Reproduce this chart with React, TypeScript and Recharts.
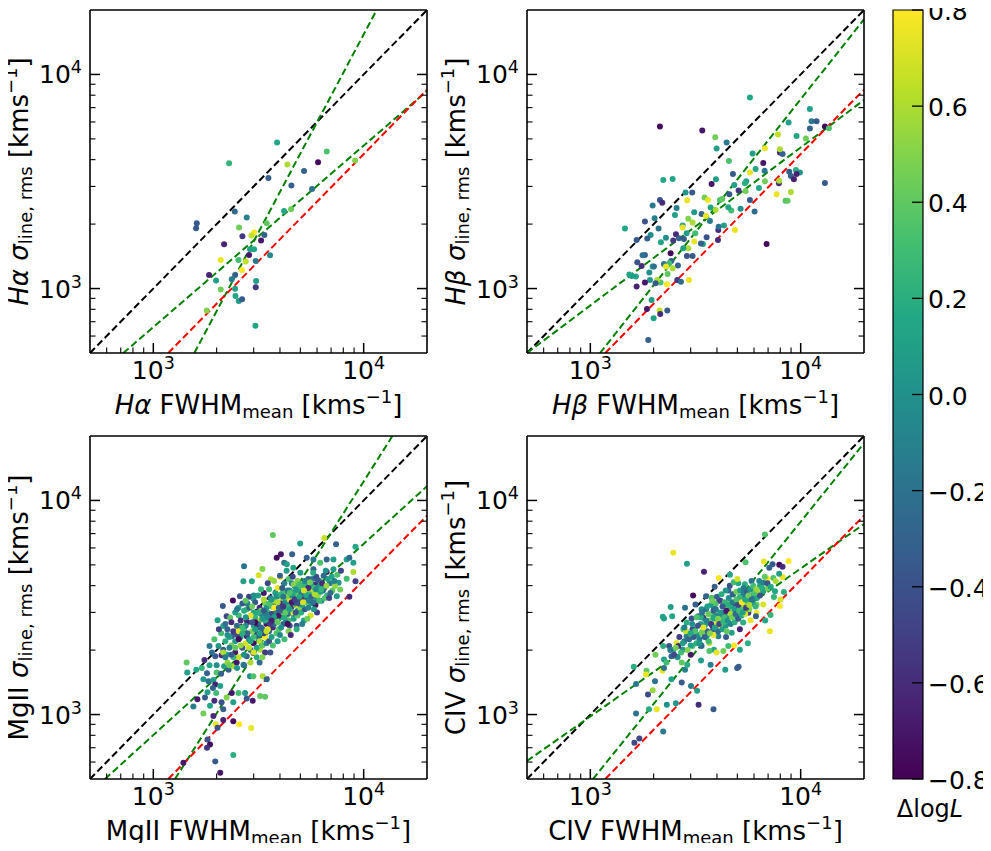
import { ReactNode } from "react";
import {
  Bar,
  ComposedChart,
  ReferenceLine,
  Scatter,
  ScatterChart,
  XAxis,
  YAxis,
} from "recharts";

const W = 991;
const H = 851;
const FONT = "'DejaVu Sans', sans-serif";

// viridis, 11 evenly spaced stops
const VIRIDIS = [
  "#440154", "#482475", "#414487", "#355f8d", "#2a788e", "#21918c",
  "#22a884", "#44bf70", "#7ad151", "#bddf26", "#fde725",
];
const C_MIN = -0.8;
const C_MAX = 0.8;

// [FWHM_mean, sigma_line,rms, ΔlogL]
type Pt = [number, number, number];

const halpha: Pt[] = [
  [1609, 2018, -0.35], [1597, 1912, -0.35], [2292, 3847, 0.25], [3876, 4804, 0.15],
  [6674, 4361, 0.35], [6070, 3889, -0.75], [4339, 3793, 0.6], [3525, 3286, -0.3],
  [4533, 3026, -0.3], [5206, 3542, -0.3], [5684, 2920, -0.2], [4184, 2304, 0.15],
  [4516, 2346, 0.45], [2438, 2288, -0.25], [2781, 2145, -0.1], [3461, 2018, 0.4],
  [2556, 1926, 0.45], [2652, 1754, -0.55], [3013, 1825, 0.8], [2927, 1767, 0.65],
  [3253, 1675, -0.7], [3374, 1780, -0.3], [2170, 1610, -0.65], [2884, 1526, 0.1],
  [3013, 1526, 0.15], [2852, 1436, -0.7], [3589, 1430, -0.05], [2092, 1360, 0.75],
  [2538, 1360, 0.3], [2750, 1336, 0.65], [3068, 1346, -0.15], [2642, 1221, 0.8],
  [1841, 1157, -0.65], [2447, 1157, -0.3], [2360, 1105, -0.1], [1988, 1089, 0.1],
  [3080, 1085, 0.1], [2092, 989, 0.45], [2447, 999, 0.1], [3068, 1014, -0.55],
  [2457, 924, 0.15], [2548, 875, 0.1], [2642, 891, -0.35], [1795, 789, 0.5],
  [3057, 671, 0.15], [9100, 3959, 0.5],
];

const hbeta: Pt[] = [
  [2142, 5707, -0.75], [3405, 5467, -0.7], [5738, 7795, 0.15], [11063, 6901, 0.1],
  [11267, 6044, -0.15], [11900, 6044, -0.35], [11063, 5585, -0.3], [13036, 5707, -0.75],
  [13621, 5605, 0.35], [8760, 5959, 0.1], [9561, 5162, 0.15], [10588, 5016, 0.45],
  [7795, 5236, 0.65], [3926, 5089, 0.45], [4446, 4804, -0.15], [3985, 4505, 0.1],
  [6761, 4522, 0.75], [5908, 4269, 0.1], [7968, 4314, -0.6], [8204, 4253, -0.3],
  [7968, 4473, 0.6], [4561, 3945, 0.35], [6640, 3862, -0.7], [6105, 3619, 0.15],
  [6736, 3554, -0.2], [5738, 3479, 0.75], [4764, 3430, -0.35], [5513, 3170, 0.1],
  [9490, 3581, 0.2], [9915, 3479, 0.05], [8823, 3516, -0.3], [8987, 3357, -0.3],
  [9286, 3239, -0.65], [9561, 3430, -0.65], [13036, 3114, -0.35], [6761, 3170, 0.45],
  [7880, 3102, -0.6], [7909, 3192, 0.6], [7681, 2756, 0.75], [8987, 2827, 0.6],
  [8477, 2574, 0.35], [8665, 2574, 0.4], [6332, 2951, 0.15], [5472, 2857, 0.45],
  [5068, 2867, -0.55], [4578, 2756, -0.35], [4834, 3047, 0.1], [5432, 3102, 0.2],
  [5738, 2593, -0.35], [6039, 2288, -0.25], [5180, 2362, 0.0], [4677, 2312, 0.3],
  [4132, 2593, 0.35], [4239, 2620, 0.4], [3772, 3080, -0.7], [3955, 3239, 0.1],
  [4317, 1968, 0.1], [4869, 1878, 0.75], [4058, 1878, -0.6], [4073, 1945, -0.2],
  [6885, 1616, -0.75], [2222, 3216, 0.15], [2461, 3250, 0.15], [2142, 2593, -0.4],
  [2198, 2519, -0.6], [1978, 2440, -0.15], [2021, 2129, -0.1], [1818, 2054, -0.4],
  [2111, 1905, -0.2], [1935, 1780, 0.0], [1866, 1711, -0.3], [2837, 2806, 0.05],
  [3051, 2806, -0.35], [2889, 2583, 0.75], [3493, 2659, 0.45], [3624, 2593, 0.75],
  [3731, 2388, 0.15], [3941, 2328, 0.6], [2525, 2207, 0.1], [2571, 2379, -0.1],
  [3119, 2271, 0.05], [3381, 2231, -0.3], [3545, 2183, 0.75], [3704, 2069, -0.15],
  [2921, 2121, 0.5], [2746, 1968, 0.1], [2746, 1926, 0.75], [3063, 2032, 0.6],
  [2553, 1792, -0.6], [2479, 1675, -0.55], [2288, 1729, 0.0], [2166, 1645, 0.15],
  [2638, 1717, -0.3], [2786, 1705, -0.35], [2869, 1813, 0.1], [3154, 1813, 0.3],
  [3571, 1736, -0.4], [4043, 1687, -0.6], [3430, 1616, 0.1], [3356, 1622, -0.3],
  [3119, 1657, 0.75], [2921, 1543, 0.6], [2766, 1543, 0.1], [3063, 1420, -0.35],
  [2879, 1420, -0.4], [2408, 1461, -0.75], [2426, 1346, -0.3], [2373, 1312, 0.3],
  [2238, 1303, -0.2], [2288, 1266, 0.75], [2609, 1280, -0.3], [2461, 1243, 0.6],
  [2590, 1097, -0.55], [2696, 1077, -0.25], [2943, 1097, 0.75], [2330, 1170, 0.4],
  [2313, 1047, 0.8], [2158, 1066, 0.35], [2081, 1097, 0.6], [2043, 1058, -0.35],
  [1921, 1097, 0.05], [1818, 1066, -0.7], [1660, 1021, -0.65], [1648, 1137, 0.15],
  [1753, 1275, -0.6], [1907, 1187, 0.0], [1978, 1266, 0.1], [2006, 1266, -0.2],
  [1672, 1327, -0.4], [1818, 1436, -0.3], [1772, 1430, -0.2], [1660, 1687, -0.35],
  [1461, 1905, 0.15], [1532, 1162, 0.15], [1572, 1145, 0.1], [1859, 803, -0.7],
  [1999, 726, 0.1], [2134, 789, 0.65], [2150, 761, -0.6], [2322, 789, -0.35],
  [1956, 885, 0.1], [1886, 575, -0.3], [4528, 2396, 0.15],
];

const mgii: Pt[] = [
  [3700, 6890, 0.4], [4990, 6300, 0.1], [6500, 6670, 0.65], [7390, 6250, -0.3],
  [9140, 6080, 0.15], [3860, 5400, -0.75], [4040, 5600, -0.7], [4570, 5600, -0.3],
  [2700, 4930, -0.2], [3300, 4780, 0.5], [3170, 4470, 0.7], [2680, 4190, 0.1],
  [2940, 4190, 0.15], [4010, 4390, 0.8], [3620, 4280, 0.6], [4190, 5120, -0.2],
  [4310, 5030, 0.1], [4630, 4850, 0.15], [5360, 5400, -0.3], [5770, 5300, -0.15],
  [6210, 5120, 0.35], [6670, 5300, -0.3], [7180, 5300, 0.1], [5770, 4770, -0.3],
  [6670, 4630, -0.7], [7180, 4770, 0.1], [8300, 5300, 0.1], [8550, 5400, -0.25],
  [8930, 5120, 0.1], [9140, 4190, -0.5], [8550, 3550, -0.6], [8930, 4630, 0.6],
  [8300, 4310, 0.3], [7600, 4130, 0.05], [7730, 3840, 0.45], [7450, 3570, 0.1],
  [7310, 3980, 0.55], [2390, 3410, -0.75], [2140, 3210, -0.35], [2580, 3570, -0.4],
  [2780, 3100, 0.35], [2990, 3480, 0.1], [2860, 3150, -0.3], [2540, 3150, 0.1],
  [2020, 2760, 0.1], [2230, 2880, -0.45], [2150, 2590, 0.15], [2320, 2830, 0.4],
  [2490, 2590, 0.6], [2360, 2320, -0.3], [2780, 2320, -0.65], [2630, 2090, -0.7],
  [1850, 2090, -0.15], [2040, 2090, 0.05], [2150, 2010, -0.3], [1970, 1870, -0.35],
  [2110, 1890, -0.6], [2230, 1910, 0.1], [1440, 1750, 0.4], [1600, 1620, 0.15],
  [1450, 1570, 0.1], [1800, 1560, -0.3], [1730, 1460, 0.05], [1830, 1430, -0.2],
  [1930, 1450, 0.1], [2000, 1570, 0.35], [2170, 1680, 0.1], [2280, 1620, -0.3],
  [2400, 1680, 0.6], [2490, 1750, -0.7], [2680, 1710, 0.1], [2780, 1870, -0.3],
  [2990, 1940, -0.75], [3220, 2010, 0.6], [1970, 1380, -0.65], [1920, 1330, -0.3],
  [2080, 1360, 0.1], [1990, 1260, 0.3], [1620, 1180, -0.7], [1760, 1200, -0.35],
  [1810, 1270, 0.1], [1550, 1090, -0.1], [1730, 1010, 0.45], [1860, 1100, 0.15],
  [1950, 1160, -0.6], [2110, 1140, -0.4], [2150, 1060, -0.3], [2400, 1140, 0.1],
  [2230, 1200, 0.5], [2360, 1260, -0.7], [2540, 1260, 0.3], [2730, 1260, 0.05],
  [2970, 1160, -0.7], [2780, 1190, -0.35], [3220, 1220, 0.4], [3400, 1210, 0.4],
  [2880, 1510, 0.0], [2990, 1510, 0.35], [3310, 1510, 0.6], [3460, 1460, -0.3],
  [1930, 985, -0.6], [1980, 900, 0.75], [2020, 867, -0.4], [2150, 942, -0.65],
  [2400, 931, -0.75], [2560, 900, 0.8], [2920, 865, 0.75], [1810, 765, -0.4],
  [1860, 725, -0.75], [1800, 700, -0.55], [1390, 596, -0.7], [1970, 604, -0.35],
  [2080, 535, -0.7], [2400, 647, 0.2],
  // dense core
  [3000, 2600, 0.2], [3100, 2400, -0.5], [3200, 2750, 0.6], [3300, 2500, -0.2],
  [3350, 2900, 0.1], [3400, 2300, 0.8], [3450, 2650, -0.7], [3500, 3000, 0.3],
  [3550, 2450, -0.3], [3600, 2800, 0.0], [3650, 3200, 0.5], [3700, 2550, -0.6],
  [3750, 2950, 0.2], [3800, 3350, -0.4], [3850, 2700, 0.7], [3900, 3050, -0.1],
  [3950, 2500, 0.4], [4000, 3250, -0.8], [4050, 2850, 0.15], [4100, 3500, 0.6],
  [4150, 2650, -0.35], [4200, 3100, 0.05], [4250, 3700, -0.55], [4300, 2900, 0.75],
  [4350, 3350, -0.2], [4400, 2750, 0.3], [4450, 3800, 0.1], [4500, 3150, -0.65],
  [4550, 3550, 0.45], [4600, 2950, -0.1], [4650, 3400, 0.25], [4700, 4000, -0.3],
  [4750, 3250, 0.65], [4800, 3650, -0.75], [4850, 3050, 0.1], [4900, 3900, 0.35],
  [4950, 3450, -0.45], [5000, 3150, 0.55], [5100, 3750, 0.0], [5200, 3350, -0.25],
  [5300, 4100, 0.2], [5400, 3550, 0.8], [5500, 3900, -0.5], [5600, 3300, 0.15],
  [5700, 4300, -0.15], [5800, 3700, 0.4], [5900, 4050, -0.6], [6000, 3450, 0.05],
  [6200, 4200, 0.3], [6400, 3800, -0.35], [2600, 2300, 0.1], [2650, 2050, -0.4],
  [2700, 2500, 0.35], [2750, 2150, 0.7], [2800, 2700, -0.65], [2850, 2250, 0.0],
  [2900, 2000, -0.2], [2950, 2450, 0.5], [3000, 2150, -0.75], [3050, 2850, 0.25],
  [3100, 2050, 0.15], [3150, 2300, -0.3], [3200, 2200, 0.6], [3250, 2950, -0.1],
  [3300, 2100, 0.4], [3350, 2400, -0.5], [3400, 2750, 0.2], [3450, 2150, -0.05],
  [3500, 2500, 0.75], [3550, 2200, -0.4], [2500, 2600, -0.25], [2550, 2900, 0.3],
  [2450, 2200, 0.05], [2400, 2450, -0.55], [2350, 2100, 0.45], [2300, 2300, 0.1],
  [2250, 2500, -0.3], [2200, 2200, 0.2], [2450, 1950, -0.7], [2550, 1850, 0.65],
  [3650, 2300, 0.1], [3750, 2650, -0.25], [3850, 2400, 0.35], [3950, 2900, -0.7],
  [4050, 2550, 0.0], [4150, 3000, 0.5], [4250, 2700, -0.15], [4350, 3200, 0.25],
  [4450, 2600, -0.45], [4550, 3000, 0.7], [4650, 2800, 0.1], [4750, 3500, -0.2],
  [4850, 2900, 0.4], [4950, 3300, -0.6], [5050, 3000, 0.2], [5150, 3600, 0.05],
  [5250, 3100, -0.35], [5350, 3800, 0.6], [5450, 3150, -0.1], [5550, 3450, 0.3],
  [3800, 3700, 0.1], [3600, 3500, -0.3], [3400, 3300, 0.45], [3200, 3150, -0.6],
  [3000, 3000, 0.15], [4200, 4100, -0.1], [4400, 4300, 0.35], [3900, 3900, 0.75],
  [4600, 4400, -0.45], [5000, 4600, 0.1], [5700, 3600, 0.25], [5900, 3250, -0.7],
  [6100, 3700, 0.5], [6300, 3400, 0.0], [6500, 3900, -0.3], [6700, 3600, 0.2],
  [6900, 4100, -0.15], [7100, 3800, 0.4], [6000, 3000, -0.5], [5600, 2900, 0.7],
  [5200, 2750, 0.1], [4800, 2600, -0.35], [4400, 2450, 0.5], [4000, 2350, -0.05],
  [3700, 2100, 0.35], [3400, 1950, -0.55], [3100, 1850, 0.2], [2900, 1750, 0.6],
  [2700, 1700, -0.2], [2500, 1650, 0.05], [2600, 2750, -0.6], [2700, 3050, 0.2],
  [2800, 3300, -0.1], [2900, 2900, 0.75], [3050, 3350, -0.35], [3150, 3600, 0.1],
  [3250, 3050, 0.45], [3350, 3700, -0.7], [3450, 3150, 0.05], [3550, 3850, 0.3],
  [3650, 2950, -0.45], [3750, 3400, 0.6], [3850, 3100, -0.2], [3950, 3600, 0.15],
  [4050, 3300, -0.55], [4150, 3750, 0.35], [4250, 3350, 0.0], [4350, 2950, -0.25],
  [4450, 3450, 0.8], [4550, 4100, -0.1], [4650, 3700, 0.2], [4750, 3000, -0.4],
  [4850, 4200, 0.5], [4950, 3750, 0.1], [5050, 3450, -0.7], [5150, 4000, 0.25],
  [5250, 3700, -0.05], [5350, 3350, 0.4], [5450, 4300, -0.3], [5550, 3800, 0.65],
  [5650, 4000, 0.1], [5750, 3350, -0.2], [5850, 3900, 0.3], [5950, 4400, -0.45],
  [6050, 3600, 0.55], [6150, 3950, 0.05], [6350, 4100, -0.6], [6550, 3500, 0.35],
  [6750, 4300, 0.1], [6950, 3700, -0.25], [3000, 2300, 0.3], [3150, 2650, -0.15],
  [3300, 2800, 0.05], [3450, 2450, 0.65], [3600, 2650, -0.5], [3750, 2850, 0.1],
  [3900, 2700, 0.4], [4050, 3050, -0.3], [4200, 2850, 0.2], [4350, 2650, -0.75],
  [2300, 2050, -0.1], [2400, 1850, 0.25], [2500, 2350, -0.45], [2600, 2100, 0.55],
  [2700, 1900, 0.0], [2800, 2400, -0.3], [2900, 2200, 0.15], [3000, 1950, 0.7],
  [3100, 2550, -0.6], [3200, 2400, 0.1], [4500, 3600, 0.0], [4700, 3300, -0.15],
  [4900, 3600, 0.45], [5100, 3250, 0.1], [5300, 3550, -0.5], [5500, 3650, 0.25],
  [4100, 3900, -0.35], [3700, 3200, 0.2], [3500, 2850, -0.05], [4300, 3550, 0.5],
  [2100, 2400, 0.3], [2200, 2650, -0.2], [2250, 1750, 0.55], [2350, 2700, -0.6],
  [2450, 3000, 0.1], [2550, 2450, 0.75], [2650, 3300, -0.35], [2750, 2850, 0.05],
  [2850, 3550, -0.5], [2950, 3200, 0.45], [3050, 2700, -0.8], [3150, 3000, 0.2],
  [3250, 2550, -0.25], [3350, 3450, 0.6], [3450, 2950, -0.1], [3550, 3300, 0.35],
  [3650, 2750, -0.65], [3750, 3150, 0.8], [3850, 3550, 0.0], [3950, 3150, -0.3],
  [4050, 3650, 0.25], [4150, 3200, -0.55], [4250, 3000, 0.4], [4350, 3800, -0.15],
  [4450, 3100, 0.1], [4550, 3350, -0.7], [4650, 4050, 0.5], [4750, 3850, 0.05],
  [4850, 3350, -0.4], [4950, 4050, 0.3], [5050, 3650, -0.2], [5150, 3350, 0.7],
  [5250, 4200, -0.1], [5350, 3600, 0.15], [5450, 3900, -0.6], [5550, 4150, 0.45],
  [5650, 3550, -0.3], [5750, 4600, 0.2], [5850, 3650, 0.6], [5950, 3850, -0.05],
  [6050, 4250, -0.35], [6150, 3400, 0.3], [6250, 3750, 0.1], [6450, 4450, -0.25],
  [6650, 4000, 0.55], [6850, 3500, -0.5], [7050, 4400, 0.15], [7250, 4200, -0.1],
  [7500, 4500, 0.35], [7800, 4700, -0.45], [2150, 1950, 0.6], [2250, 2350, 0.0],
  [2350, 1900, -0.35], [2450, 2050, 0.4], [2550, 2250, -0.75], [2650, 2400, 0.2],
  [2750, 2600, -0.05], [2850, 2050, 0.65], [2950, 2700, -0.4], [3050, 2500, 0.1],
  [1900, 1950, -0.2], [1950, 2250, 0.35], [2050, 2500, -0.5], [1850, 1700, 0.15],
  [1750, 1800, -0.6], [1700, 1650, 0.25], [2000, 1700, 0.0], [2100, 1550, -0.3],
  [2300, 1700, 0.45], [2200, 1850, -0.15], [3200, 1750, -0.25], [3300, 1850, 0.5],
  [3600, 1950, -0.4], [3900, 2200, 0.1], [4200, 2250, 0.3], [4500, 2350, -0.6],
  [4800, 2500, 0.2], [5100, 2650, -0.1], [5400, 2800, 0.45], [5800, 3100, 0.05],
  [3250, 3850, 0.25], [3500, 4100, -0.45], [3000, 3600, 0.0], [2750, 3400, 0.4],
  [2500, 3100, -0.15], [3750, 4200, 0.55], [4000, 4450, -0.3], [4300, 4700, 0.1],
  [2650, 2550, 0.3], [3350, 3050, -0.35], [3650, 3450, 0.05], [3900, 3350, 0.6],
  [4150, 3550, -0.2], [4450, 3700, 0.35], [4700, 3450, -0.5], [4950, 3550, 0.15],
  [5200, 3800, 0.7], [5500, 3400, -0.15], [6300, 3850, 0.25], [6600, 4700, 0.0],
];

const civ: Pt[] = [
  [2480, 5700, 0.75], [2880, 5060, 0.1], [3470, 4650, -0.65], [6760, 6940, 0.35],
  [5470, 5150, 0.35], [6680, 5190, 0.75], [7350, 5040, -0.35], [7910, 5010, -0.75],
  [8200, 4900, -0.6], [8760, 5220, 0.8], [7090, 4850, -0.3], [6940, 4310, 0.8],
  [7410, 4340, 0.35], [8200, 4390, 0.75], [4080, 4340, 0.8], [4610, 4500, 0.15],
  [3900, 3950, -0.3], [3080, 3600, -0.75], [3160, 3270, -0.3], [2410, 3180, 0.1],
  [2820, 3150, -0.2], [2210, 2860, 0.15], [2240, 2810, 0.1], [2450, 2880, 0.15],
  [3030, 2810, -0.4], [3380, 3100, 0.05], [3870, 3150, -0.3], [3550, 3570, -0.3],
  [4100, 3410, -0.6], [4530, 3800, -0.3], [3870, 2990, 0.45], [5050, 4100, 0.15],
  [5430, 4060, 0.2], [5840, 4200, -0.2], [6280, 3700, 0.6], [6640, 3770, 0.1],
  [6970, 3880, 0.45], [7550, 3770, 0.15], [8320, 3740, 0.2], [7460, 3540, 0.25],
  [7960, 3210, 0.8], [8020, 3450, 0.7], [6640, 3270, 0.7], [6170, 2990, 0.8],
  [7190, 2920, 0.25], [6780, 2750, 0.15], [7140, 2450, 0.75], [5070, 1670, -0.3],
  [4990, 1650, -0.35], [4380, 1620, 0.1], [3730, 1710, -0.1], [3220, 1290, 0.1],
  [3010, 1360, -0.1], [2550, 1130, 0.05], [2310, 1110, 0.0], [2070, 1060, 0.75],
  [1900, 1060, 0.2], [1650, 1010, -0.2], [3270, 1110, -0.6], [3850, 1060, -0.35],
  [2220, 834, -0.15], [1620, 738, -0.45], [1710, 773, -0.45], [1610, 1670, 0.2],
  [1650, 1390, -0.15], [1850, 1600, 0.4], [1840, 1540, 0.75], [1880, 1240, -0.45],
  [1980, 1300, 0.55], [2030, 1430, -0.2], [2200, 1600, 0.75], [2240, 1810, 0.1],
  [2040, 1900, 0.45], [2220, 2090, 0.2], [2370, 2090, -0.4], [2480, 2010, 0.1],
  [2430, 1870, -0.3], [2570, 2160, 0.75], [2750, 2010, 0.0], [3000, 1900, -0.7],
  [2720, 1750, 0.4], [2820, 1620, -0.1], [2720, 1410, -0.35], [2430, 1460, 0.1],
  [2240, 1650, -0.2], [2890, 1710, 0.2], [3360, 1790, 0.1], [3060, 2090, 0.35],
  [3240, 2350, 0.05], [3390, 2430, 0.45], [3680, 2160, 0.6], [3870, 2010, 0.15],
  [3980, 1950, 0.75], [4290, 1980, 0.45], [4820, 2100, 0.8], [5610, 2150, 0.2],
  [4420, 2300, -0.35], [4700, 2410, 0.1], [5140, 2500, -0.65], [5330, 2690, 0.2],
  [5780, 2760, 0.75], [6130, 2880, -0.3], [4950, 2880, 0.1], [4610, 2990, 0.35],
  [4290, 3210, 0.05], [4450, 2780, -0.2], [4160, 2610, 0.75], [3840, 2500, -0.3],
  [3640, 2690, 0.15], [3450, 2830, -0.5], [3640, 2940, 0.8], [3980, 2880, -0.15],
  [5330, 3100, 0.1], [5640, 3330, 0.3], [5140, 3510, -0.45], [4780, 3640, 0.2],
  [5370, 3710, 0.6], [5960, 3510, 0.05], [6400, 3980, 0.1], [5900, 3840, -0.3],
  [4610, 3330, 0.4], [4290, 2940, -0.6], [3770, 3510, 0.35], [3260, 2880, -0.3],
  [3140, 2500, 0.2], [2870, 2320, -0.1], [2770, 2500, 0.3], [2620, 2090, -0.6],
  [3030, 2320, 0.8], [3570, 2320, 0.1], [4060, 2320, -0.1], [4530, 2090, 0.3],
  [5140, 2010, 0.15], [3680, 1980, 0.35], [3380, 2090, -0.25], [6170, 3270, 0.45],
  [6640, 4130, -0.1], [5640, 2990, -0.55], [3060, 2500, -0.4], [2870, 2690, 0.2],
  // dense core
  [3500, 2600, 0.1], [3600, 2450, -0.3], [3700, 2750, 0.4], [3800, 2600, -0.6],
  [3900, 2800, 0.2], [4000, 2650, 0.7], [4100, 2900, -0.1], [4200, 2750, 0.3],
  [4300, 3000, -0.4], [4400, 2600, 0.05], [4500, 3100, 0.5], [4600, 2850, -0.2],
  [4700, 3200, 0.15], [4800, 2950, 0.8], [4900, 3300, -0.5], [5000, 3050, 0.25],
  [5100, 3450, -0.05], [5200, 3150, 0.35], [5300, 3550, -0.3], [5400, 3250, 0.6],
  [3400, 2400, 0.45], [3300, 2250, -0.1], [3200, 2150, 0.2], [3100, 2300, -0.35],
  [3000, 2100, 0.1], [2900, 2000, 0.5], [2800, 2200, -0.2], [2700, 1950, 0.3],
  [2600, 1850, 0.0], [2500, 1900, -0.45], [3650, 2200, 0.3], [3850, 2350, 0.75],
  [4050, 2450, -0.25], [4250, 2500, 0.1], [4450, 2450, 0.4], [4650, 2650, -0.1],
  [4850, 2700, 0.2], [5050, 2800, -0.35], [5250, 2900, 0.15], [5450, 2950, 0.7],
  [3550, 3100, -0.2], [3750, 3250, 0.05], [3950, 3300, 0.35], [4150, 3400, -0.5],
  [4350, 3350, 0.25], [4550, 3500, 0.0], [4750, 3650, -0.3], [4950, 3750, 0.45],
  [5150, 3800, 0.1], [5350, 3900, -0.15], [5600, 3400, 0.2], [5800, 3600, -0.1],
  [6000, 3700, 0.35], [6200, 3500, 0.15], [6400, 3600, -0.4], [5700, 3100, 0.5],
  [5900, 3300, 0.0], [6100, 3200, 0.25], [3350, 2650, 0.1], [3850, 3050, -0.35],
  [2300, 1750, 0.3], [2400, 2000, -0.15], [2550, 2050, 0.45], [2650, 2300, -0.5],
  [2750, 2150, 0.1], [2850, 2450, 0.65], [2950, 2250, -0.25], [3050, 2650, 0.0],
  [3150, 2450, 0.35], [3250, 2600, -0.4], [3350, 2850, 0.2], [3450, 2550, 0.75],
  [3550, 2750, -0.1], [3650, 2950, 0.4], [3750, 2650, -0.55], [3850, 2850, 0.15],
  [3950, 3100, -0.2], [4050, 2800, 0.5], [4150, 3000, 0.05], [4250, 3200, -0.35],
  [4350, 2850, 0.3], [4450, 3050, -0.7], [4550, 3250, 0.2], [4650, 2950, 0.6],
  [4750, 3350, -0.15], [4850, 3100, 0.1], [4950, 3450, 0.35], [5050, 3250, -0.45],
  [5150, 3550, 0.25], [5250, 3350, 0.8], [5350, 3700, -0.1], [5450, 3450, 0.15],
  [5550, 3750, -0.3], [5650, 3600, 0.45], [5750, 3850, 0.05], [5850, 3450, -0.2],
  [5950, 4000, 0.3], [6150, 3850, 0.55], [6350, 4200, -0.05], [6550, 3900, 0.2],
  [6750, 4400, 0.4], [6950, 4100, -0.4], [7200, 3950, 0.15], [7600, 4200, 0.6],
  [7900, 4550, 0.1], [3300, 2150, 0.05], [3500, 2300, -0.3], [3700, 2400, 0.5],
  [3900, 2550, 0.1], [4100, 2650, -0.45], [4300, 2700, 0.25], [4500, 2750, 0.0],
  [4700, 2850, 0.45], [4900, 2950, -0.25], [5100, 3050, 0.3], [5300, 3000, 0.1],
  [5500, 3150, -0.5], [5700, 3250, 0.6], [3000, 2400, 0.15], [2800, 2550, -0.1],
  [3200, 2850, 0.35], [3400, 3000, -0.2], [3600, 3200, 0.1], [3800, 3400, 0.45],
  [4000, 3550, -0.3], [4200, 3650, 0.2], [4400, 3800, 0.05], [4600, 4000, -0.4],
  [4800, 4150, 0.3], [5000, 4300, 0.7],
];

// dashed reference lines, endpoints [[x1, y1], [x2, y2]]
type Seg = [[number, number], [number, number]];
const unity: Seg = [[500, 500], [20000, 20000]];
const gaussian: Seg = [[1178, 500], [20000, 8493]]; // sigma = FWHM / 2.355
const halphaFits: Seg[] = [[[1567, 500], [11530, 20000]], [[720, 500], [20000, 8370]]];
const hbetaFits: Seg[] = [[[1112, 500], [20000, 18100]], [[500, 500], [20000, 7600]]];
const mgiiFits: Seg[] = [[[1268, 500], [13700, 20000]], [[589, 500], [20000, 11650]]];
const civFits: Seg[] = [[[1030, 500], [20000, 18500]], [[500, 607], [20000, 7760]]];

const DOMAIN: [number, number] = [500, 20000];
const MAJOR_TICKS = [1000, 10000];
const ALL_TICKS = [600, 700, 800, 900, 1000, 2000, 3000, 4000, 5000, 6000, 7000, 8000, 9000, 10000];
const CBAR_TICKS = [-0.8, -0.6, -0.4, -0.2, 0, 0.2, 0.4, 0.6, 0.8];
const CBAR_SPAN = [{ name: "dlogL", span: [C_MIN, C_MAX] }];

// panel rows / colorbar extent in page pixels
const TOP_ROW = { t: 10, b: 353 };
const BOTTOM_ROW = { t: 436, b: 779 };
const LEFT_COL = { l: 90, r: 427 };
const RIGHT_COL = { l: 527, r: 864 };

function hex(h: string) {
  return [1, 3, 5].map((i) => parseInt(h.slice(i, i + 2), 16));
}

function viridis(c: number) {
  const t = Math.min(1, Math.max(0, (c - C_MIN) / (C_MAX - C_MIN))) * 10;
  const i = Math.min(9, Math.floor(t));
  const f = t - i;
  const a = hex(VIRIDIS[i]);
  const b = hex(VIRIDIS[i + 1]);
  const rgb = a.map((v, k) => Math.round(v + (b[k] - v) * f));
  return `rgb(${rgb.join(",")})`;
}

type Side = "bottom" | "top" | "left" | "right";

function logTick(side: Side, withLabel: boolean) {
  return function Tick(props: any) {
    const { x, y, payload } = props;
    const v: number = payload.value;
    const major = MAJOR_TICKS.includes(v);
    const len = major ? 10 : 5.5;
    const dx = side === "left" ? len : side === "right" ? -len : 0;
    const dy = side === "bottom" ? -len : side === "top" ? len : 0;
    const exp = String(Math.round(Math.log10(v)));
    return (
      <g>
        <line x1={x} y1={y} x2={x + dx} y2={y + dy} stroke="#000" strokeWidth={major ? 1.5 : 1.1} />
        {withLabel && major && side === "bottom" && (
          <text x={x} y={y + 26} textAnchor="middle" fontSize={25} fontFamily={FONT} fill="#000">
            10<tspan dy={-10} fontSize={17.5}>{exp}</tspan>
          </text>
        )}
        {withLabel && major && side === "left" && (
          <text x={x - 8} y={y + 9} textAnchor="end" fontSize={25} fontFamily={FONT} fill="#000">
            10<tspan dy={-10} fontSize={17.5}>{exp}</tspan>
          </text>
        )}
      </g>
    );
  };
}

function CbarTick(props: any) {
  const { x, y, payload } = props;
  const v: number = payload.value;
  const txt = v.toFixed(1).replace("-", "\u2212");
  return (
    <g>
      <line x1={x} y1={y} x2={x - 11} y2={y} stroke="#000" strokeWidth={1.3} />
      <text x={x + 5} y={y + 10} fontSize={25} fontFamily={FONT} fill="#000">{txt}</text>
    </g>
  );
}

const TITLE = 26;
const SUB = 18;

function unitTail() {
  return (
    <>
      <tspan dy={-4}> [kms</tspan>
      <tspan dy={-11} fontSize={SUB}>{"\u22121"}</tspan>
      <tspan dy={11}>]</tspan>
    </>
  );
}

interface PanelProps {
  l: number;
  t: number;
  r: number;
  b: number;
  points: Pt[];
  fits: Seg[];
  species: ReactNode;
}

function Panel({ l, t, r, b, points, fits, species }: PanelProps) {
  const data = points.map(([x, y, c]) => ({ x, y, c }));
  const axisLine = { stroke: "#000", strokeWidth: 1.6 };
  const seg = (s: Seg) => [{ x: s[0][0], y: s[0][1] }, { x: s[1][0], y: s[1][1] }];
  const dash = { strokeWidth: 2, strokeDasharray: "7 3.5", ifOverflow: "hidden" as const };
  const cx = (l + r) / 2;
  const cy = (t + b) / 2;

  const xTitle = () => (
    <text x={cx} y={b + 61} textAnchor="middle" fontSize={TITLE} fontFamily={FONT} fill="#000">
      {species}
      <tspan> FWHM</tspan>
      <tspan dy={4} fontSize={SUB}>mean</tspan>
      {unitTail()}
    </text>
  );
  const yTitle = () => (
    <text
      x={l - 62}
      y={cy}
      transform={`rotate(-90 ${l - 62} ${cy})`}
      textAnchor="middle"
      fontSize={TITLE}
      fontFamily={FONT}
      fill="#000"
    >
      {species}
      <tspan fontStyle="italic"> σ</tspan>
      <tspan dy={4} fontSize={SUB}>line, rms</tspan>
      {unitTail()}
    </text>
  );

  const common = {
    type: "number" as const,
    scale: "log" as const,
    domain: DOMAIN,
    allowDataOverflow: true,
    ticks: ALL_TICKS,
    interval: 0 as const,
    tickSize: 0,
    tickMargin: 0,
    tickLine: false,
    axisLine,
  };

  return (
    <div style={{ position: "absolute", left: 0, top: 0 }}>
      <ScatterChart
        width={W}
        height={H}
        margin={{ left: l - 1, top: t - 1, right: W - r - 1, bottom: H - b - 1 }}
      >
        <XAxis dataKey="x" height={1} tick={logTick("bottom", true)} label={xTitle} {...common} />
        <XAxis xAxisId="top" orientation="top" height={1} tick={logTick("top", false)} {...common} />
        <YAxis dataKey="y" width={1} tick={logTick("left", true)} label={yTitle} {...common} />
        <YAxis yAxisId="right" orientation="right" width={1} tick={logTick("right", false)} {...common} />
        <Scatter
          data={data}
          isAnimationActive={false}
          shape={(p: any) => <circle cx={p.cx} cy={p.cy} r={3} fill={viridis(p.payload.c)} />}
        />
        <ReferenceLine segment={seg(unity)} stroke="#000" {...dash} />
        {fits.map((f, i) => (
          <ReferenceLine key={i} segment={seg(f)} stroke="#008000" {...dash} />
        ))}
        <ReferenceLine segment={seg(gaussian)} stroke="#ff0000" {...dash} />
      </ScatterChart>
    </div>
  );
}

function Colorbar() {
  const top = TOP_ROW.t;
  const bottom = BOTTOM_ROW.b;
  const label = () => (
    <text x={930} y={bottom + 38} textAnchor="middle" fontSize={24} fontFamily={FONT} fill="#000">
      Δlog<tspan fontStyle="italic">L</tspan>
    </text>
  );
  return (
    <div style={{ position: "absolute", left: 0, top: 0 }}>
      <ComposedChart
        width={W}
        height={H}
        data={CBAR_SPAN}
        barCategoryGap={0}
        margin={{ left: 893, top, right: W - 923 - 1, bottom: H - bottom }}
      >
        <defs>
          <linearGradient id="viridisBar" x1="0" y1="1" x2="0" y2="0">
            {VIRIDIS.map((c, i) => (
              <stop key={i} offset={i / 10} stopColor={c} />
            ))}
          </linearGradient>
        </defs>
        <XAxis dataKey="name" type="category" hide />
        <YAxis
          orientation="right"
          type="number"
          domain={[C_MIN, C_MAX]}
          ticks={CBAR_TICKS}
          interval={0}
          width={1}
          tickSize={0}
          tickMargin={0}
          tickLine={false}
          axisLine={false}
          tick={CbarTick}
          label={label}
        />
        <Bar
          dataKey="span"
          fill="url(#viridisBar)"
          stroke="#000"
          strokeWidth={1.2}
          isAnimationActive={false}
        />
      </ComposedChart>
    </div>
  );
}

export default function App() {
  return (
    <div style={{ position: "relative", width: W, height: H, margin: -8, background: "#fff", fontFamily: FONT }}>
      <Panel {...LEFT_COL} {...TOP_ROW} points={halpha} fits={halphaFits} species={<tspan fontStyle="italic">Hα</tspan>} />
      <Panel {...RIGHT_COL} {...TOP_ROW} points={hbeta} fits={hbetaFits} species={<tspan fontStyle="italic">Hβ</tspan>} />
      <Panel {...LEFT_COL} {...BOTTOM_ROW} points={mgii} fits={mgiiFits} species={<tspan>MgII</tspan>} />
      <Panel {...RIGHT_COL} {...BOTTOM_ROW} points={civ} fits={civFits} species={<tspan>CIV</tspan>} />
      <Colorbar />
    </div>
  );
}
